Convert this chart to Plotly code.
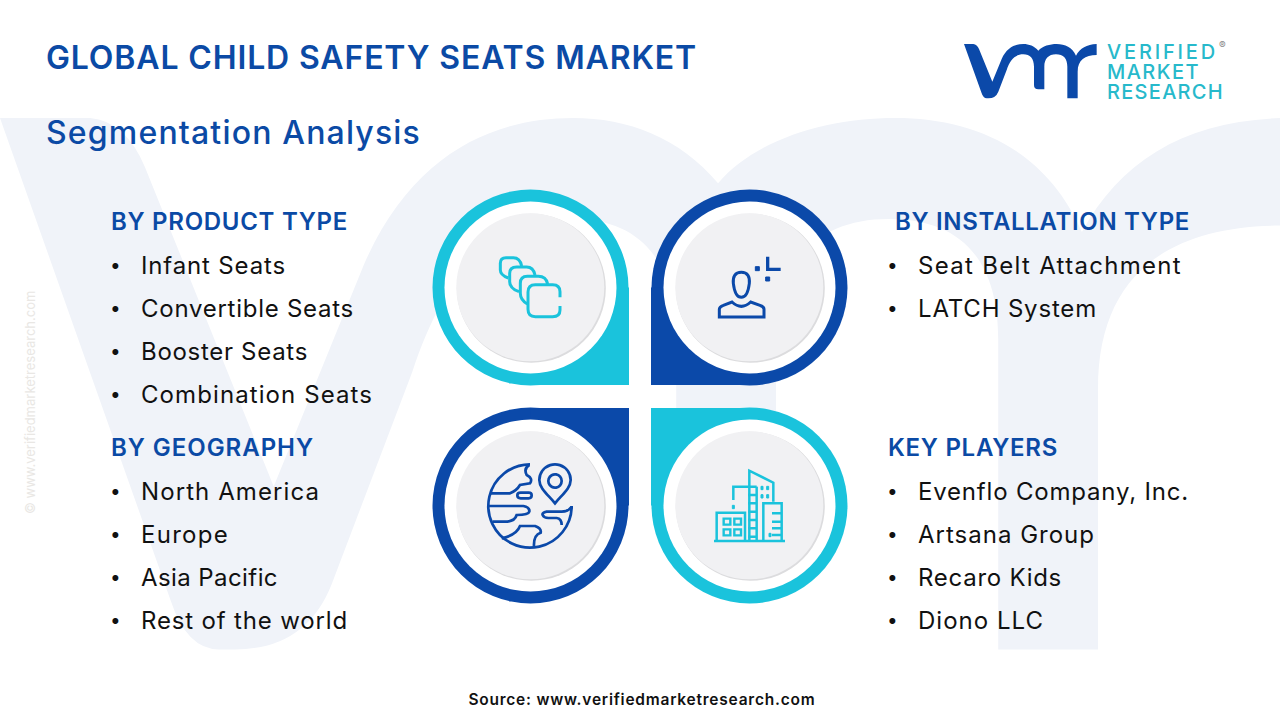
import re, json, math
import plotly.graph_objects as go

TITLE = "GLOBAL CHILD SAFETY SEATS MARKET"
SUBTITLE = "Segmentation Analysis"
SOURCE = "Source: www.verifiedmarketresearch.com"
WATERMARK = "© www.verifiedmarketresearch.com"
LOGO_WORDS = ["VERIFIED", "MARKET", "RESEARCH"]
product_items = ["Infant Seats", "Convertible Seats", "Booster Seats", "Combination Seats"]
geography_items = ["North America", "Europe", "Asia Pacific", "Rest of the world"]
installation_items = ["Seat Belt Attachment", "LATCH System"]
player_items = ["Evenflo Company, Inc.", "Artsana Group", "Recaro Kids", "Diono LLC"]

# width each text occupies in the reference, used to set its letter spacing
TEXT_WIDTHS = {
    TITLE: 651, SUBTITLE: 375, "BY PRODUCT TYPE": 237, "BY GEOGRAPHY": 203,
    "BY INSTALLATION TYPE": 295, "KEY PLAYERS": 170, "Infant Seats": 145,
    "Convertible Seats": 213, "Booster Seats": 167, "Combination Seats": 232,
    "North America": 179, "Europe": 88, "Asia Pacific": 137, "Rest of the world": 207,
    "Seat Belt Attachment": 264, "LATCH System": 179, "Evenflo Company, Inc.": 271,
    "Artsana Group": 177, "Recaro Kids": 144, "Diono LLC": 126, SOURCE: 347,
    "VERIFIED": 111, "MARKET": 93, "RESEARCH": 117,
}

DARK = "#0b49a9"
CYAN = "#1ac3dc"
HEAD = "#0b4aa5"
FONT = "Inter"

shapes, notes = [], []

def add_path(d, fill=None, line=None, width=0):
    s = dict(type="path", path=d, layer="below", xref="x", yref="y")
    s["fillcolor"] = fill if fill else "rgba(0,0,0,0)"
    s["line"] = dict(color=line, width=width) if line else dict(width=0)
    shapes.append(s)

def txt(x, y, t, size, color="#111111", weight=400, anchor="left", angle=0, font=FONT):
    notes.append(dict(x=x-2 if anchor == "left" else x, y=y, text=t, xref="x", yref="y",
                      showarrow=False, xanchor=anchor, yanchor="middle", textangle=angle,
                      font=dict(family=font, size=size, color=color, weight=weight)))

# logo outline, in its own unit space
LOGO = [("M",27,27),("L",55,27),("Q",66,28,72,42),("L",112,140),("L",140,72),
        ("C",155,38,180,27,205,27),("C",222,27,238,33,250,47),("C",262,33,285,27,305,27),
        ("C",330,27,352,37,363,62),("C",375,40,395,28,425,27),("L",425,60),
        ("C",390,60,368,75,368,110),("L",368,190),("L",337,190),("L",337,95),
        ("C",337,70,325,58,303,58),("C",280,58,268,72,268,95),("L",268,163),("L",250,163),
        ("Q",237,163,237,150),("L",237,95),("C",237,70,225,58,205,58),("C",180,58,165,75,155,105),
        ("L",130,170),("Q",122,190,100,190),("L",95,190),("Q",85,190,80,175),("Z",)]

def logo_path(x0, y0, sx, sy):
    out = []
    for c in LOGO:
        nums = c[1:]
        pts = [f"{x0+(nums[i]-27)*sx:.2f},{y0+(nums[i+1]-27)*sy:.2f}" for i in range(0, len(nums), 2)]
        out.append(c[0] + " ".join(pts))
    return " ".join(out)

add_path(logo_path(0, 118, 3.22, 3.26), fill="#f0f3f9")
add_path(logo_path(964, 44, 1/3, 1/3), fill=DARK)

def circle(cx, cy, r, fill):
    shapes.append(dict(type="circle", x0=cx-r, x1=cx+r, y0=cy-r, y1=cy+r, xref="x", yref="y",
                       layer="below", fillcolor=fill, line=dict(width=0)))

PANELS = [(530.5, 287.5, 629, 385, CYAN), (749.5, 287.5, 651, 385, DARK),
          (530.5, 505.5, 629, 408, DARK), (749.5, 505.5, 651, 408, CYAN)]
for cx, cy, ex, ey, col in PANELS:
    circle(cx, cy, 98, col)
    add_path(f"M{cx},{cy} L{ex},{cy} L{ex},{ey} L{cx},{ey} Z", fill=col)
    circle(cx, cy, 86, "#ffffff")
    circle(cx+0.8, cy+0.8, 74.5, "#dcdcde")
    circle(cx-0.2, cy-0.2, 74, "#f1f1f3")

def arc(cx, cy, r, a0, a1):
    """Cubic segments along a circle; angles in degrees, screen orientation."""
    n = max(1, int(abs(a1-a0)//45)+1)
    step = math.radians(a1-a0)/n
    k = 4/3*math.tan(step/4)
    out = []
    t = math.radians(a0)
    for _ in range(n):
        t2 = t+step
        p1 = (cx+r*(math.cos(t)-k*math.sin(t)), cy+r*(math.sin(t)+k*math.cos(t)))
        p2 = (cx+r*(math.cos(t2)+k*math.sin(t2)), cy+r*(math.sin(t2)-k*math.cos(t2)))
        p3 = (cx+r*math.cos(t2), cy+r*math.sin(t2))
        out.append(f"C{p1[0]:.1f} {p1[1]:.1f} {p2[0]:.1f} {p2[1]:.1f} {p3[0]:.1f} {p3[1]:.1f}")
        t = t2
    return " ".join(out)

def icon(d, ox, oy, color, width=2.7, fill=None):
    # icon paths are written in 3x crop units
    out = []
    for cmd, args in re.findall(r"([MLQCZ])([^MLQCZ]*)", d):
        v = [float(a) for a in args.replace(",", " ").split()]
        pts = [f"{ox+v[i]/3:.2f},{oy+v[i+1]/3:.2f}" for i in range(0, len(v), 2)]
        out.append(cmd + " ".join(pts))
    add_path(" ".join(out), fill=fill, line=color, width=width)

# seats icon
o1 = (420, 180)
for d in ["M305 258 Q300 233 280 233 L258 233 Q241 233 241 250 L241 270 Q241 285 265 294",
          "M345 285 Q340 261 320 261 L290 261 Q269 261 269 280 L269 305 Q269 325 297 335",
          "M383 312 Q378 289 355 289 L322 289 Q301 289 301 310 L301 340 Q301 360 322 372",
          "M420 352 L420 335 Q420 314 398 314 L346 314 Q324 314 324 336 L324 388 Q324 410 346 410 L398 410 Q420 410 420 390 L420 378"]:
    icon(d, *o1, CYAN, 3)

# person icon
icon("M964 277 C945 277 938 290 940 310 C943 335 952 352 964 352 C976 352 985 335 988 310 C990 290 983 277 964 277 Z", *o1, DARK, 3)
icon("M898 411 L898 388 Q898 380 910 376 L936 366 Q964 392 992 366 L1020 376 Q1032 380 1032 388 L1032 411 Z", *o1, DARK, 3)
icon("M1043 230 L1043 268 L1082 268", *o1, DARK, 3.3)
for x, y in [(1012, 266), (1043, 297)]:
    icon(f"M{x-6} {y-6} L{x+6} {y-6} L{x+6} {y+6} L{x-6} {y+6} Z", *o1, DARK, 1, fill=DARK)

# globe icon
o2 = (420, 400)
for d in ["M330 193 " + arc(330, 318, 125, 270, 0),
          "M328 195 Q310 205 320 225 Q340 235 330 250 L300 255 Q290 272 270 280 L212 280",
          "M302 278 L326 278 Q335 278 335 286 Q335 295 326 295 L302 295 Q292 295 292 286 Q292 278 302 278 Z",
          "M205 318 L310 318 Q330 322 328 335 Q325 345 290 345 Q285 362 262 365 L218 365",
          "M245 415 Q290 405 300 378 L345 378 Q365 385 362 398 Q340 405 342 440",
          "M455 320 Q445 335 425 335 L380 335 Q365 338 368 345 Q372 354 385 354 L410 354 Q425 356 425 375",
          "M405 310 C385 285 358 265 358 240 " + arc(405, 240, 47, 180, 360) + " C452 265 425 285 405 310 Z",
          "M425 243 " + arc(405, 243, 20, 0, 360) + " Z"]:
    icon(d, *o2, DARK, 2.7)

# buildings icon
for d in ["M882 423 L1095 423",
          "M890 423 L890 338 L975 338 L975 423",
          "M940 300 L940 260 L1010 260",
          "M988 423 L988 212 L1060 248 L1060 305",
          "M1030 423 L1030 310 L1085 310 L1085 423",
          "M985 285 L1008 285 M985 310 L1008 310 M985 335 L1008 335 M985 360 L1008 360 M985 385 L1008 385 M985 410 L1008 410",
          "M1010 260 L1010 423",
          "M1056 340 L1085 340 M1056 365 L1085 365 M1056 385 L1085 385 M1056 405 L1085 405"]:
    icon(d, *o2, CYAN, 2.5)
for x, y in [(921, 365), (953, 365), (921, 397), (953, 397)]:
    icon(f"M{x-10} {y-9} L{x+10} {y-9} L{x+10} {y+9} L{x-10} {y+9} Z", *o2, CYAN, 2.4)
for x, y in [(1026, 264), (1043, 264), (1026, 289), (1043, 289), (940, 321), (1050, 405)]:
    icon(f"M{x-3} {y-5} L{x+3} {y-5} L{x+3} {y+5} L{x-3} {y+5} Z", *o2, CYAN, 1, fill=CYAN)

# text
txt(46, 57, TITLE, 32, HEAD, 600)
txt(46, 132, SUBTITLE, 32, HEAD, 500)

def block(hx, hy, head, bx, tx, items, ys):
    txt(hx, hy, head, 24, HEAD, 600)
    for item, y in zip(items, ys):
        txt(bx, y, "•", 19, "#111111", 400, anchor="center")
        txt(tx, y, item, 24, "#111111", 400)

top = [265, 308, 351, 394]
low = [491, 534, 577, 620]
block(111, 221, "BY PRODUCT TYPE", 115, 141, product_items, top)
block(111, 447, "BY GEOGRAPHY", 115, 141, geography_items, low)
block(895, 221, "BY INSTALLATION TYPE", 892, 918, installation_items, top)
block(888, 447, "KEY PLAYERS", 892, 918, player_items, low)

txt(641.5, 699, SOURCE, 15.5, "#111111", 600, anchor="center")
txt(30, 403, WATERMARK, 13, "#e9e7e4", 400, anchor="center", angle=-90)
for w, y in zip(LOGO_WORDS, [52, 72, 92]):
    txt(1107, y, w, 20, "#27b9cb", 500)
txt(1222, 45, "®", 10, "#888888", 400, anchor="center")

fig = go.Figure()
fig.update_layout(
    width=1280, height=720, margin=dict(l=0, r=0, t=0, b=0),
    paper_bgcolor="#ffffff", plot_bgcolor="#ffffff", showlegend=False,
    xaxis=dict(range=[0, 1280], visible=False, fixedrange=True),
    yaxis=dict(range=[720, 0], visible=False, fixedrange=True),
    shapes=shapes, annotations=notes,
)

POST = """
document.body.style.margin = '0';
document.body.style.overflow = 'hidden';
var widths = %s, centered = %s;
document.querySelectorAll('.annotation-text').forEach(function (el) {
  var t = el.textContent;
  if (!(t in widths)) return;
  var w0 = el.getComputedTextLength();
  el.style.letterSpacing = ((widths[t] - w0) / t.length) + 'px';
  if (centered.indexOf(t) < 0) {
    var x0 = parseFloat(el.getAttribute('x')) || 0;
    el.setAttribute('x', x0 + (widths[t] - w0) / 2);
  }
});
""" % (json.dumps(TEXT_WIDTHS), json.dumps([SOURCE]))

fig.write_html("out.html", config=dict(displayModeBar=False), post_script=POST)
